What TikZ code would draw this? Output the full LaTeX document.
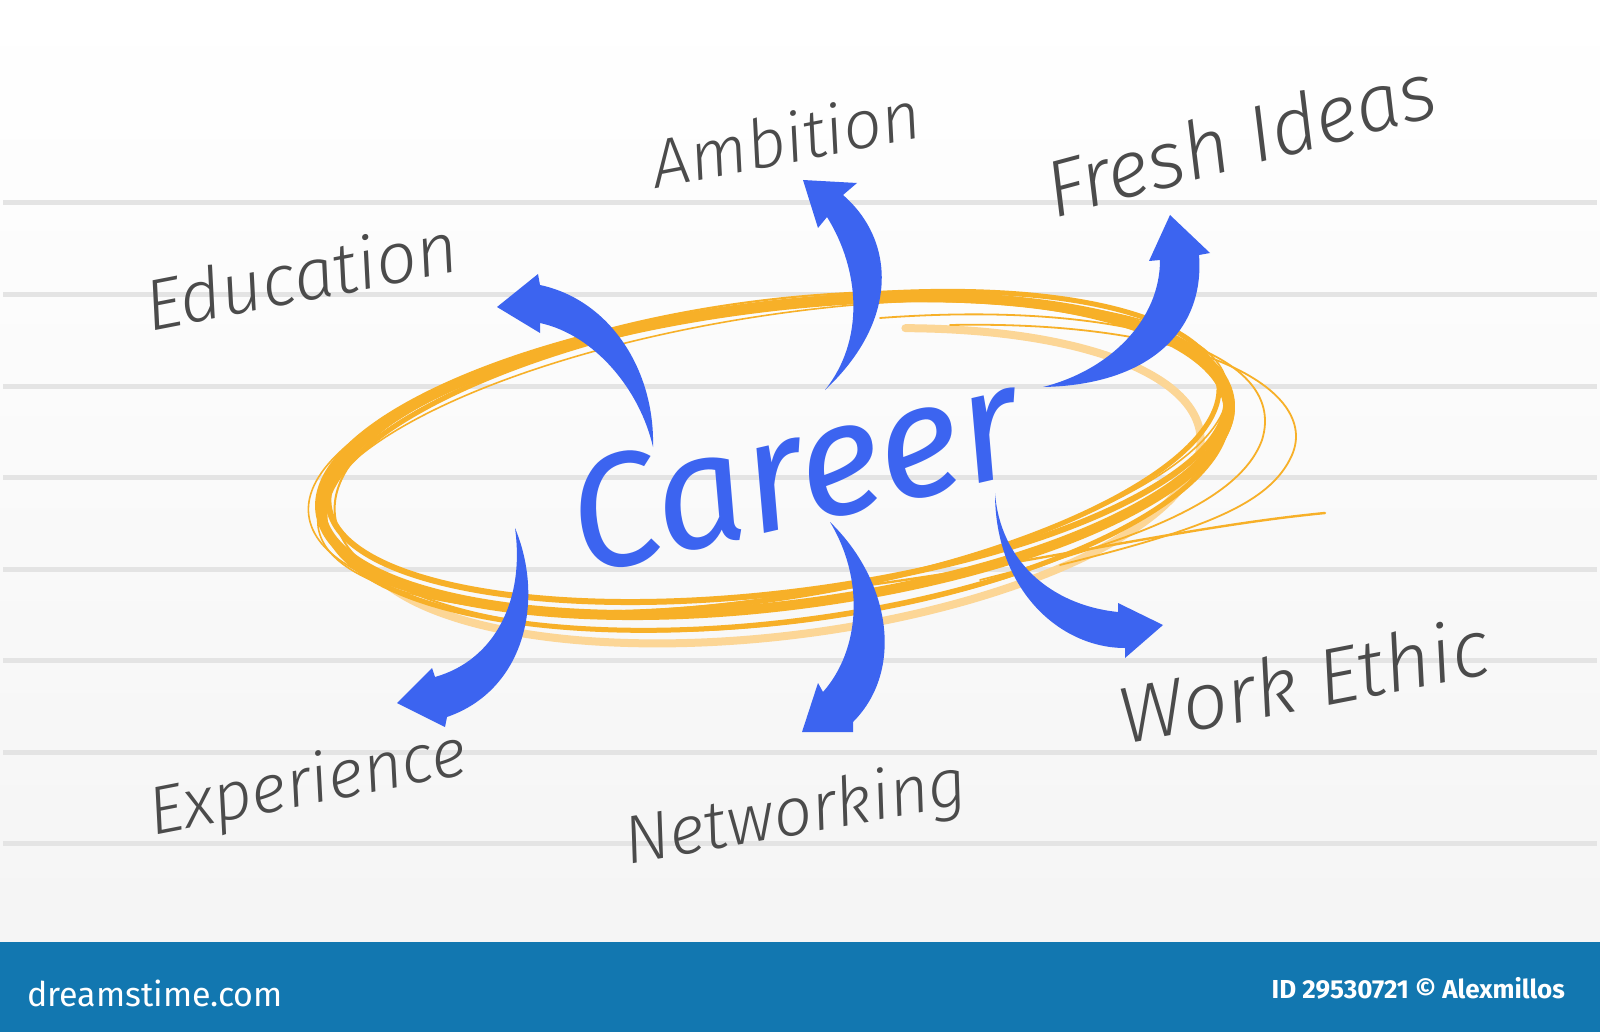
\documentclass[tikz,border=0pt]{standalone}
\usepackage{fontspec}
\setmainfont{Fira Sans}
\newfontfamily\penfont{Fira Sans Light Italic}
\definecolor{careerBlue}{RGB}{60,100,240}
\definecolor{penGray}{RGB}{75,75,75}
\definecolor{markerOrange}{RGB}{247,176,40}
\definecolor{markerPale}{RGB}{252,214,150}
\definecolor{ruleGray}{RGB}{228,228,228}
\definecolor{barBlue}{RGB}{18,119,176}

\begin{document}
\begin{tikzpicture}[x=0.5pt, y=-0.5pt,
    word/.style={font=\fontsize{34}{34}\selectfont\penfont, text=penGray, inner sep=0pt},
    bigword/.style={word, font=\fontsize{40}{40}\selectfont\penfont},
    bluearrow/.style={fill=careerBlue},
    marker/.style={draw=markerOrange, line cap=round},
    rule/.style={draw=ruleGray, line width=2.5pt}
]

\useasboundingbox (0,0) rectangle (1600,1032);
\shade[top color=white, bottom color=black!4] (0,0) rectangle (1600,942);

\foreach \k in {0,...,7} {
    \draw[rule] (3,{203+91.5*\k}) -- (1597,{203+91.5*\k});
}

\begin{scope}[shift={(775,456)}, rotate=7]
    \draw[marker, draw=markerPale, line width=4pt] (145,-111) arc [start angle=-70, end angle=160, x radius=425, y radius=150];
    \draw[marker, line width=5pt] (0,0) ellipse [x radius=458, y radius=150];
    \draw[marker, line width=3pt] (3,-5) ellipse [x radius=452, y radius=142];
    \draw[marker, line width=2.5pt] (0,8) ellipse [x radius=455, y radius=158];
    \draw[marker, line width=0.8pt] (-4,2) ellipse [x radius=466, y radius=148];
    \draw[marker, line width=1pt] (4,6) ellipse [x radius=448, y radius=162];
\end{scope}
\begin{scope}[shift={(772,452)}, rotate=9]
    \draw[marker, line width=2.5pt] (0,0) ellipse [x radius=452, y radius=146];
    \draw[marker, line width=0.8pt] (0,4) ellipse [x radius=460, y radius=140];
\end{scope}
\draw[marker, line width=0.9pt] (880,318) .. controls (1120,300) and (1290,350) .. (1262,440) .. controls (1240,500) and (1140,540) .. (980,580);
\draw[marker, line width=0.9pt] (950,325) .. controls (1200,320) and (1320,390) .. (1292,455) .. controls (1270,505) and (1200,530) .. (1060,565);
\draw[marker, line width=1.2pt] (720,600) .. controls (950,585) and (1150,530) .. (1325,513);

% arrows
\fill[bluearrow] (653,447) .. controls (655,370) and (610,300) .. (540,285)
    -- (538,274) -- (497,307) -- (540,333)
    -- (540,323) .. controls (595,335) and (640,390) .. (653,447) -- cycle;
\fill[bluearrow] (825,390) .. controls (900,320) and (895,240) .. (843,195)
    -- (857,183) -- (803,180) -- (818,228)
    -- (827,217) .. controls (860,270) and (865,340) .. (825,390) -- cycle;
\fill[bluearrow] (1043,387) .. controls (1150,385) and (1205,330) .. (1199,255)
    -- (1210,253) -- (1170,215) -- (1149,261)
    -- (1160,260) .. controls (1160,320) and (1110,370) .. (1043,387) -- cycle;
\fill[bluearrow] (995,493) .. controls (995,590) and (1060,648) .. (1125,648)
    -- (1125,658) -- (1163,625) -- (1118,603)
    -- (1118,612) .. controls (1050,605) and (1000,560) .. (995,493) -- cycle;
\fill[bluearrow] (830,522) .. controls (890,580) and (905,670) .. (853,722)
    -- (853,732) -- (802,732) -- (818,683)
    -- (823,692) .. controls (860,650) and (865,580) .. (830,522) -- cycle;
\fill[bluearrow] (515,528) .. controls (545,600) and (525,690) .. (447,717)
    -- (445,727) -- (397,703) -- (432,668)
    -- (435,677) .. controls (495,660) and (525,600) .. (515,528) -- cycle;

\node[font=\fontsize{80}{80}\selectfont\itshape, text=careerBlue, rotate=13] (career) at (794,470) {Career};

\node[word, rotate=11] (ambition) at (786,138) {Ambition};
\node[bigword, rotate=15] (ideas) at (1240,138) {Fresh Ideas};
\node[word, font=\fontsize{36}{36}\selectfont\penfont, rotate=11] (education) at (301,275) {Education};
\node[word, rotate=11] (experience) at (308,786) {Experience};
\node[word, rotate=10] (networking) at (796,816) {Networking};
\node[bigword, rotate=11] (ethic) at (1303,680) {Work Ethic};

\fill[barBlue] (0,942) rectangle (1600,1032);
\node[anchor=west, text=white, font=\fontsize{17}{17}\selectfont] (site) at (20,993) {dreamstime.com};
\node[anchor=east, text=white, font=\bfseries\fontsize{13}{13}\selectfont] (credit) at (1572,988) {ID 29530721 © Alexmillos};

\end{tikzpicture}
\end{document}
